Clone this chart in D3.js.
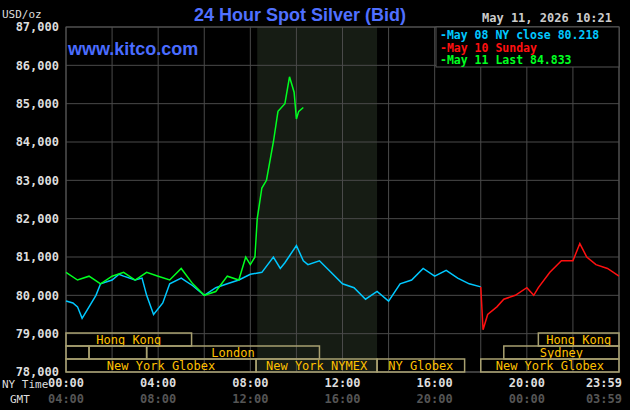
<!DOCTYPE html><html><head><meta charset="utf-8">
<script src="https://cdn.jsdelivr.net/npm/d3@7"></script>
<style>body{margin:0;background:#000}</style></head><body><svg id="c" width="630" height="410"></svg>
<script>
const yTicks=[78000,79000,80000,81000,82000,83000,84000,85000,86000,87000];
const xTickHours=[0,4,8,12,16,20,23.983];
const nyLabels=["00:00","04:00","08:00","12:00","16:00","20:00","23:59"];
const gmtLabels=["04:00","08:00","12:00","16:00","20:00","00:00","03:59"];
const blueH=[0,0.3,0.5,0.7,1,1.3,1.5,2,2.3,2.5,3,3.3,3.5,3.8,4.2,4.5,5,5.5,6,6.5,7,7.5,8,8.5,9,9.3,9.5,10,10.3,10.5,11,11.5,12,12.5,13,13.5,14,14.5,15,15.5,16,16.5,17,17.5,18];
const blueV=[79.85,79.8,79.7,79.4,79.7,80.0,80.3,80.4,80.55,80.5,80.4,80.45,80.0,79.5,79.8,80.3,80.45,80.25,80.0,80.2,80.3,80.4,80.55,80.6,81.0,80.7,80.85,81.3,80.9,80.8,80.9,80.6,80.3,80.2,79.9,80.1,79.85,80.3,80.4,80.7,80.5,80.65,80.45,80.3,80.22];
const redH=[18,18.1,18.3,18.7,19,19.5,20,20.3,20.5,21,21.5,22,22.3,22.6,23,23.5,24];
const redV=[80.22,79.1,79.5,79.7,79.9,80.0,80.2,80.0,80.2,80.6,80.9,80.9,81.35,81.0,80.8,80.7,80.5];
const greenH=[0,0.5,1,1.5,2,2.5,3,3.5,4,4.5,5,5.5,6,6.5,7,7.5,7.8,8,8.2,8.3,8.5,8.7,9,9.2,9.5,9.7,9.9,10,10.1,10.3];
const greenV=[80.6,80.4,80.5,80.3,80.5,80.6,80.4,80.6,80.5,80.4,80.7,80.3,80.0,80.1,80.5,80.4,81.0,80.8,81.0,82.0,82.8,83.0,84.0,84.8,85.0,85.7,85.3,84.6,84.8,84.9];
const sessions=[
 {row:0,a:0,b:5.45,t:"Hong Kong"},{row:0,a:20.5,b:24,t:"Hong Kong"},
 {row:1,a:0,b:1,t:""},{row:1,a:1,b:3.5,t:""},{row:1,a:3.5,b:11,t:"London"},{row:1,a:19,b:24,t:"Sydney"},
 {row:2,a:0,b:8.25,t:"New York Globex"},{row:2,a:8.25,b:13.5,t:"New York NYMEX"},{row:2,a:13.5,b:17.3,t:"NY Globex"},{row:2,a:18,b:24,t:"New York Globex"}];
const svg=d3.select("#c");
const x=d3.scaleLinear().domain([0,24]).range([66,619]);
const y=d3.scaleLinear().domain([78000,87000]).range([372,27]);
const mono="'DejaVu Sans Mono',monospace";
svg.append("rect").attr("x",x(8.3)).attr("y",27).attr("width",x(13.5)-x(8.3)).attr("height",345).attr("fill","#161c14");
const g=svg.append("g").attr("stroke","#4a4a4a").attr("stroke-width",1);
for(let h=0;h<=24;h+=2)g.append("line").attr("x1",x(h)).attr("x2",x(h)).attr("y1",27).attr("y2",372);
yTicks.forEach(v=>g.append("line").attr("x1",66).attr("x2",619).attr("y1",y(v)).attr("y2",y(v)));
svg.append("rect").attr("x",66).attr("y",27).attr("width",553).attr("height",345).attr("fill","none").attr("stroke","#555");
const yAx=svg.append("g").attr("transform","translate(62,0)").call(d3.axisLeft(y).tickValues(yTicks).tickSize(0).tickFormat(d3.format(",")));
yAx.select(".domain").remove();
yAx.selectAll("text").attr("fill","#ddd").attr("font-family",mono).attr("font-size",12).attr("font-weight","bold").attr("dy","0.32em");
const rowY=[333,346,359];
sessions.forEach(s=>{
 svg.append("rect").attr("x",x(s.a)).attr("y",rowY[s.row]).attr("width",x(s.b)-x(s.a)).attr("height",13).attr("fill","none").attr("stroke","#a8a070").attr("stroke-width",1.5);
 if(s.t)svg.append("text").attr("x",(x(s.a)+x(s.b))/2).attr("y",rowY[s.row]+11).attr("text-anchor","middle").attr("fill","#ffc000").attr("font-family",mono).attr("font-size",12).text(s.t);
});
const line=d3.line().x(d=>x(d[0])).y(d=>y(d[1]*1000));
const ser=[[blueH,blueV,"#00c8ff"],[redH,redV,"#ff1010"],[greenH,greenV,"#00ff20"]];
ser.forEach(([h,v,c])=>svg.append("path").attr("d",line(h.map((t,i)=>[t,v[i]]))).attr("fill","none").attr("stroke",c).attr("stroke-width",1.5));
xTickHours.forEach((h,i)=>{
 const last=i===xTickHours.length-1;
 [[nyLabels[i],387,"#ddd"],[gmtLabels[i],403,"#555"]].forEach(([t,yy,c])=>
  svg.append("text").attr("x",last?622:x(h)).attr("y",yy).attr("text-anchor",last?"end":"middle").attr("fill",c).attr("font-family",mono).attr("font-size",12).attr("font-weight","bold").text(t));
});
svg.append("text").attr("x",2).attr("y",388).attr("fill","#ddd").attr("font-family",mono).attr("font-size",11).text("NY Time");
svg.append("text").attr("x",10).attr("y",403).attr("fill","#ddd").attr("font-family",mono).attr("font-size",11).text("GMT");
svg.append("text").attr("x",2).attr("y",18).attr("fill","#ddd").attr("font-family",mono).attr("font-size",11).text("USD/oz");
svg.append("text").attr("x",300).attr("y",21).attr("text-anchor","middle").attr("fill","#5070ff").attr("font-family","'Liberation Sans',Arial,sans-serif").attr("font-weight","bold").attr("font-size",18).text("24 Hour Spot Silver (Bid)");
svg.append("text").attr("x",68).attr("y",55).attr("fill","#4a6cff").attr("font-family","'Liberation Sans',Arial,sans-serif").attr("font-weight","bold").attr("font-size",18).text("www.kitco.com");
svg.append("text").attr("x",482).attr("y",22).attr("fill","#ccc").attr("font-family",mono).attr("font-size",12).attr("font-weight","bold").text("May 11, 2026 10:21");
svg.append("rect").attr("x",436).attr("y",27).attr("width",183).attr("height",40).attr("fill","#000").attr("stroke","#555");
[["-May 08 NY close 80.218","#00c8ff"],["-May 10 Sunday","#ff1010"],["-May 11 Last 84.833","#00ff20"]].forEach((l,i)=>
 svg.append("text").attr("x",440).attr("y",39+i*12.5).attr("fill",l[1]).attr("font-family",mono).attr("font-size",11.5).attr("font-weight","bold").text(l[0]));
</script></body></html>
